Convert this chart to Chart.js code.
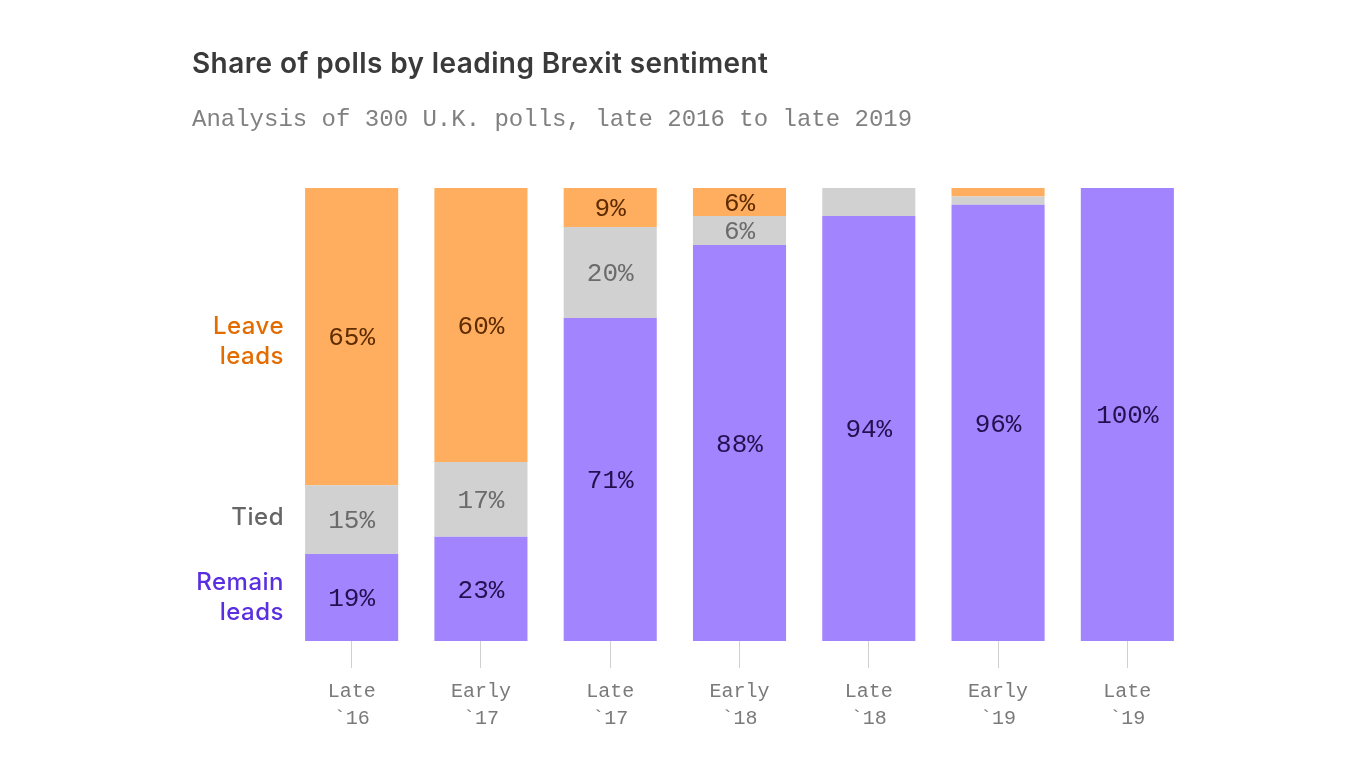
<!DOCTYPE html>
<html>
<head>
<meta charset="utf-8">
<script src="https://cdn.jsdelivr.net/npm/chart.js@4/dist/chart.umd.min.js"></script>
<style>
  html, body { margin: 0; padding: 0; background: #fff; }
  #wrap { position: relative; width: 1366px; height: 768px; overflow: hidden; }
  #chart { position: absolute; left: 0; top: 0; }
  .title { position: absolute; left: 192px; top: 46px; font-family: Inter, sans-serif; font-weight: 600; font-size: 28px; letter-spacing: 0.4px; color: #3a3a3a; white-space: nowrap; }
  .sub { position: absolute; left: 192px; top: 106px; font-family: "Liberation Mono", monospace; font-size: 24px; color: #808080; white-space: nowrap; }
  .side { position: absolute; right: 1082px; font-family: Inter, sans-serif; font-weight: 500; font-size: 24px; letter-spacing: 0.5px; line-height: 30px; text-align: right; white-space: nowrap; }
</style>
</head>
<body>
<div id="wrap">
  <canvas id="chart" width="1366" height="768"></canvas>
  <div class="title">Share of polls by leading Brexit sentiment</div>
  <div class="sub">Analysis of 300 U.K. polls, late 2016 to late 2019</div>
  <div class="side" style="top:311px;color:#e36c00;">Leave<br>leads</div>
  <div class="side" style="top:502px;color:#666;">Tied</div>
  <div class="side" style="top:567px;color:#5a2fe0;">Remain<br>leads</div>
</div>
<script>
const categories = [["Late", "`16"], ["Early", "`17"], ["Late", "`17"], ["Early", "`18"], ["Late", "`18"], ["Early", "`19"], ["Late", "`19"]];
const remainValues = [19.2, 23.0, 71.3, 87.4, 93.8, 96.3, 100];
const tiedValues   = [15.2, 16.5, 20.1, 6.4, 6.2, 1.8, 0];
const leaveValues  = [65.6, 60.5, 8.6, 6.2, 0, 1.9, 0];
const remainLabels = ["19%", "23%", "71%", "88%", "94%", "96%", "100%"];
const tiedLabels   = ["15%", "17%", "20%", "6%", null, null, null];
const leaveLabels  = ["65%", "60%", "9%", "6%", null, null, null];

const labelPlugin = {
  id: 'segLabels',
  afterDatasetsDraw(chart) {
    const ctx = chart.ctx;
    ctx.save();
    ctx.font = '26px "Liberation Mono", monospace';
    ctx.textAlign = 'center';
    ctx.textBaseline = 'middle';
    chart.data.datasets.forEach((ds, i) => {
      const meta = chart.getDatasetMeta(i);
      meta.data.forEach((el, j) => {
        const t = ds.segLabels[j];
        if (!t) return;
        ctx.fillStyle = ds.labelColor;
        ctx.fillText(t, el.x, (el.y + el.base) / 2 + 2);
      });
    });
    ctx.restore();
  }
};

new Chart(document.getElementById('chart'), {
  type: 'bar',
  data: {
    labels: categories,
    datasets: [
      { label: 'Remain leads', data: remainValues, backgroundColor: '#a284ff', segLabels: remainLabels, labelColor: '#24104f' },
      { label: 'Tied', data: tiedValues, backgroundColor: '#d0d1d0', segLabels: tiedLabels, labelColor: '#6b6b6b' },
      { label: 'Leave leads', data: leaveValues, backgroundColor: '#ffad5e', segLabels: leaveLabels, labelColor: '#5e2c00' }
    ]
  },
  options: {
    responsive: false,
    animation: false,
    devicePixelRatio: 1,
    layout: { padding: { left: 287, right: 174, top: 188, bottom: 0 } },
    datasets: { bar: { barPercentage: 0.72, categoryPercentage: 1, borderWidth: 0 } },
    plugins: { legend: { display: false }, tooltip: { enabled: false }, title: { display: false } },
    scales: {
      x: {
        stacked: true,
        border: { display: false },
        grid: { display: true, offset: false, drawOnChartArea: false, drawTicks: true, tickLength: 27, color: '#d0d0d0', lineWidth: 1 },
        ticks: { color: '#7a7a7a', padding: 10, font: { family: '"Liberation Mono", monospace', size: 20, lineHeight: 1.35 } },
        afterFit(scale) { scale.height = 127; }
      },
      y: { stacked: true, display: false, min: 0, max: 100 }
    }
  },
  plugins: [labelPlugin]
});
</script>
</body>
</html>
